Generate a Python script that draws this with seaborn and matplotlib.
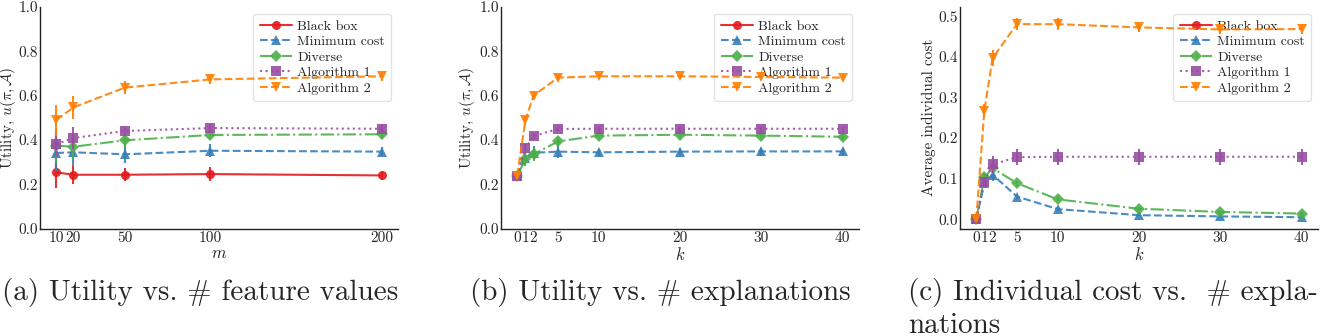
import numpy as np
import pandas as pd
import matplotlib
matplotlib.use("Agg")
import matplotlib.pyplot as plt
import seaborn as sns

# ---------------- data ----------------
methods = ["Black box", "Minimum cost", "Diverse", "Algorithm 1", "Algorithm 2"]

m_vals = [10, 20, 50, 100, 200]
a_black = [0.255, 0.244, 0.244, 0.247, 0.241]
a_mincost = [0.342, 0.345, 0.336, 0.352, 0.348]
a_diverse = [0.375, 0.370, 0.399, 0.423, 0.426]
a_alg1 = [0.382, 0.409, 0.441, 0.454, 0.451]
a_alg2 = [0.490, 0.547, 0.636, 0.673, 0.687]
a_err_black = [0.07, 0.04, 0.03, 0.03, 0.02]
a_err_mincost = [0.08, 0.06, 0.04, 0.03, 0.02]
a_err_diverse = [0.08, 0.06, 0.03, 0.02, 0.02]
a_err_alg1 = [0.06, 0.05, 0.02, 0.02, 0.02]
a_err_alg2 = [0.07, 0.05, 0.03, 0.02, 0.02]

k_vals = [0, 1, 2, 5, 10, 20, 30, 40]
b_black = [0.24]
b_mincost = [0.24, 0.32, 0.343, 0.348, 0.345, 0.348, 0.349, 0.349]
b_diverse = [0.24, 0.313, 0.336, 0.394, 0.420, 0.424, 0.420, 0.415]
b_alg1 = [0.24, 0.364, 0.418, 0.450, 0.451, 0.451, 0.451, 0.451]
b_alg2 = [0.24, 0.490, 0.600, 0.681, 0.687, 0.687, 0.684, 0.681]
b_err_black = [0.015]
b_err_mincost = [0.015, 0.03, 0.03, 0.03, 0.015, 0.015, 0.015, 0.015]
b_err_diverse = [0.015, 0.03, 0.03, 0.02, 0.015, 0.015, 0.015, 0.015]
b_err_alg1 = [0.015, 0.02, 0.015, 0.01, 0.01, 0.01, 0.01, 0.01]
b_err_alg2 = [0.015, 0.02, 0.015, 0.01, 0.01, 0.01, 0.01, 0.01]

c_black = [0.0]
c_mincost = [0.0, 0.089, 0.110, 0.056, 0.025, 0.010, 0.007, 0.005]
c_diverse = [0.0, 0.103, 0.126, 0.089, 0.049, 0.026, 0.018, 0.014]
c_alg1 = [0.0, 0.093, 0.135, 0.153, 0.154, 0.154, 0.154, 0.154]
c_alg2 = [0.0, 0.268, 0.397, 0.481, 0.481, 0.473, 0.468, 0.469]
c_err_black = [0.005]
c_err_mincost = [0.005, 0.01, 0.015, 0.005, 0.004, 0.003, 0.003, 0.003]
c_err_diverse = [0.005, 0.01, 0.01, 0.006, 0.005, 0.004, 0.003, 0.003]
c_err_alg1 = [0.005, 0.01, 0.02, 0.02, 0.02, 0.02, 0.02, 0.02]
c_err_alg2 = [0.005, 0.015, 0.02, 0.015, 0.015, 0.012, 0.012, 0.012]

a_ticks = [10, 20, 50, 100, 200]
k_ticks = [0, 1, 2, 5, 10, 20, 30, 40]

captions = ["(a) Utility vs. # feature values",
            "(b) Utility vs. # explanations",
            "(c) Individual cost vs.  # expla-",
            "nations"]

# ---------------- style ----------------
sns.set_theme(style="white")
plt.rcParams["font.family"] = ["cmr10", "DejaVu Serif"]
plt.rcParams["mathtext.fontset"] = "cm"
plt.rcParams["axes.formatter.use_mathtext"] = True
plt.rcParams["axes.unicode_minus"] = False

colors = sns.color_palette("Set1", 5)
markers = ["o", "^", "D", "s", "v"]
styles = ["-", "--", "-.", ":", "--"]

fig = plt.figure(figsize=(13.37, 3.36), dpi=100)
axes = [fig.add_axes([0.0299, 0.3185, 0.2678, 0.6615]),
        fig.add_axes([0.3747, 0.3185, 0.2678, 0.6615]),
        fig.add_axes([0.7180, 0.3185, 0.2678, 0.6615])]


def draw(ax, xs_list, ys_list, es_list):
    for i, (xs, ys, es) in enumerate(zip(xs_list, ys_list, es_list)):
        df = pd.DataFrame({"x": xs, "y": ys})
        ax.errorbar(xs, ys, yerr=es, fmt="none", ecolor=colors[i],
                    elinewidth=1.5, alpha=0.9, zorder=2 + i)
        sns.lineplot(data=df, x="x", y="y", ax=ax, color=colors[i],
                     marker=markers[i], linestyle=styles[i], linewidth=1.5,
                     markersize=6.5, markeredgewidth=0, alpha=0.9,
                     label=methods[i], zorder=3 + i)


draw(axes[0], [m_vals] * 5,
     [a_black, a_mincost, a_diverse, a_alg1, a_alg2],
     [a_err_black, a_err_mincost, a_err_diverse, a_err_alg1, a_err_alg2])
draw(axes[1], [k_vals[:1]] + [k_vals] * 4,
     [b_black, b_mincost, b_diverse, b_alg1, b_alg2],
     [b_err_black, b_err_mincost, b_err_diverse, b_err_alg1, b_err_alg2])
draw(axes[2], [k_vals[:1]] + [k_vals] * 4,
     [c_black, c_mincost, c_diverse, c_alg1, c_alg2],
     [c_err_black, c_err_mincost, c_err_diverse, c_err_alg1, c_err_alg2])

axes[0].set_xticks(a_ticks)
axes[0].set_xticklabels([str(t) for t in a_ticks])
axes[0].set_xlim(0.5, 209.5)
for ax in axes[1:]:
    ax.set_xticks(k_ticks)
    ax.set_xticklabels([str(t) for t in k_ticks])
    ax.set_xlim(-2, 42)

for ax in axes[:2]:
    ax.set_ylim(0, 1.0)
    ax.set_yticks([0.0, 0.2, 0.4, 0.6, 0.8, 1.0])
    ax.set_yticklabels(["0.0", "0.2", "0.4", "0.6", "0.8", "1.0"])
    ax.set_ylabel(r"Utility, $u(\pi,\mathcal{A})$", fontsize=11)
axes[2].set_ylim(-0.024, 0.524)
axes[2].set_yticks([0.0, 0.1, 0.2, 0.3, 0.4, 0.5])
axes[2].set_yticklabels(["0.0", "0.1", "0.2", "0.3", "0.4", "0.5"])
axes[2].set_ylabel("Average individual cost", fontsize=11)

axes[0].set_xlabel(r"$m$", fontsize=12, labelpad=1)
axes[1].set_xlabel(r"$k$", fontsize=12, labelpad=1)
axes[2].set_xlabel(r"$k$", fontsize=12, labelpad=1)

for j, ax in enumerate(axes):
    sns.despine(ax=ax)
    ax.yaxis.set_label_coords(-0.060 if j == 0 else -0.068, 0.5)
    ax.tick_params(axis="both", labelsize=11, pad=1.5, length=0)
    for s in ["left", "bottom"]:
        ax.spines[s].set_color("#222222")
        ax.spines[s].set_linewidth(1.0)
    ax.grid(False)
    leg = ax.legend(loc="upper right", fontsize=10, frameon=True,
                    handlelength=2.3, borderpad=0.45, labelspacing=0.2,
                    handletextpad=0.4)
    leg.get_frame().set_edgecolor("#dddddd")

fig.text(0.0015, 0.107, captions[0], fontsize=21, ha="left", va="baseline")
fig.text(0.3515, 0.107, captions[1], fontsize=21, ha="left", va="baseline")
fig.text(0.679, 0.107, captions[2], fontsize=21, ha="left", va="baseline")
fig.text(0.679, 0.010, captions[3], fontsize=21, ha="left", va="baseline")

fig.savefig("out.png", dpi=100)
